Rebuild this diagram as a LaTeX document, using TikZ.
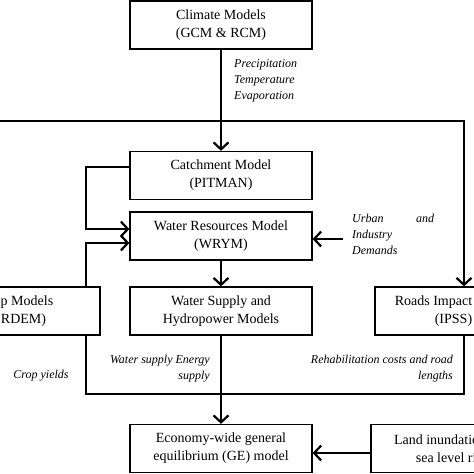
\documentclass[tikz,border=0pt]{standalone}
\usepackage{fontspec}
\setmainfont{Liberation Serif}
\usetikzlibrary{arrows.meta,calc}
\begin{document}
\begin{tikzpicture}[x=1pt,y=-1pt,
 box/.style={draw,line width=1.3pt,minimum width=182pt,minimum height=48pt,align=center,inner sep=0pt,font=\fontsize{14}{18}\selectfont},
 lbl/.style={inner sep=0pt,font=\fontsize{12}{16}\selectfont\itshape},
 con/.style={line width=2.2pt},
 arr/.style={con,-{Straight Barb[length=7pt,width=15pt]}}]
\useasboundingbox (0,0) rectangle (474,474);
\clip (0,0) rectangle (474,474);
\node[box] (clim) at (221,25) {Climate Models\\(GCM \& RCM)};
\node[box] (catch) at (221,175.5) {Catchment Model\\(PITMAN)};
\node[box] (wrym) at (221,236) {Water Resources Model\\(WRYM)};
\node[box] (ws) at (221,311) {Water Supply and\\Hydropower Models};
\node[box] (ge) at (221,448.5) {Economy-wide general\\equilibrium (GE) model};
\node[box,minimum width=167pt] (crop) at (16.5,311) {Crop Models\\(CRDEM)};
\node[box,minimum width=157pt] (roads) at (453.5,311) {Roads Impact Model\\(IPSS)};
\node[box,minimum width=162pt] (land) at (452,448.5) {Land inundation and\\sea level rise};
\coordinate (hl) at (-5,121);
\coordinate (hr) at (464,121);
\coordinate (lx) at (86,0);
\coordinate (ud) at (343,239);
\coordinate (bl) at (86,394);
\draw[arr] (clim) -- (catch);
\draw[arr] (hl) -- (hr) -- (hr |- roads.north);
\draw[arr] ($(catch.west)+(0,-8.5)$) -| ($(lx |- wrym.west)+(0,-7)$) -- ($(wrym.west)+(0,-7)$);
\draw[arr] (lx |- crop.north) |- ($(wrym.west)+(0,7)$);
\draw[arr] (ud) -- (ud -| wrym.east);
\draw[arr] (wrym) -- (ws);
\draw[con] (lx |- crop.south) -- (bl) -- (bl -| hr) -- (hr |- roads.south);
\draw[arr] (ws) -- (ge);
\draw[arr] ($(land.west)+(0,4.5)$) -- ($(ge.east)+(0,4.5)$);
\node[lbl,anchor=west,align=left] (pte) at (234,81) {Precipitation\\Temperature\\Evaporation};
\node[lbl,anchor=west,align=left] (uid) at (352,234) {\makebox[82pt][l]{Urban\hfill and}\\Industry\\Demands};
\node[lbl] (cy) at (41,376) {Crop yields};
\node[lbl,anchor=east,align=right] (wse) at (210,369) {Water supply Energy\\supply};
\node[lbl,anchor=east,align=right] (rcl) at (453,369) {Rehabilitation costs and road\\lengths};
\end{tikzpicture}
\end{document}
